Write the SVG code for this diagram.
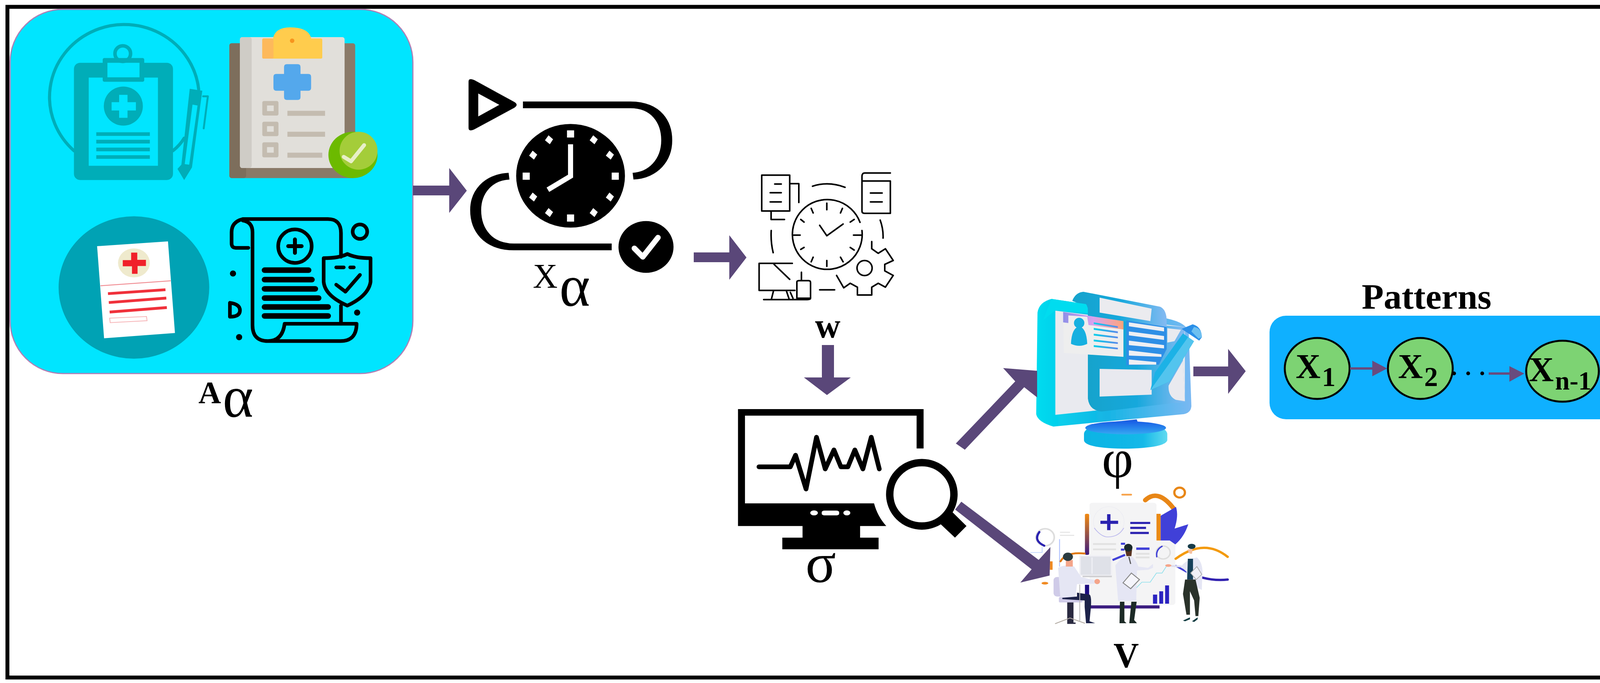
<svg xmlns="http://www.w3.org/2000/svg" width="4193" height="1748" viewBox="0 0 4193 1748">
<style>
text{font-family:"Liberation Serif","Times New Roman",serif;fill:#000}
.b{font-weight:bold}
.s{fill:none;stroke-linecap:round;stroke-linejoin:round;vector-effect:non-scaling-stroke}
.k{stroke:#000}
.arrow{fill:#5a4779}
.arrow2{fill:#694b7e}
.node{fill:#7dd373;stroke:#000;stroke-width:5}
.t{fill:#00adb8}
.c{fill:#00e5ff}
.bar{fill:#000}
.l{fill:none;stroke-linecap:round}
.skin{fill:#f4a58a}
.coat{fill:#e5e6f4}
</style>
<defs>
<linearGradient id="mon" x1="0" y1="0" x2="1" y2="0"><stop offset="0" stop-color="#00dcef"/><stop offset="0.45" stop-color="#14b5e5"/><stop offset="1" stop-color="#7ab8f2"/></linearGradient>
<linearGradient id="fold" x1="0" y1="0" x2="1" y2="0"><stop offset="0" stop-color="#12a3cc"/><stop offset="0.5" stop-color="#16a8dc"/><stop offset="1" stop-color="#84baf2"/></linearGradient>
<linearGradient id="band" x1="0" y1="0" x2="1" y2="0"><stop offset="0" stop-color="#8f8fe8"/><stop offset="0.5" stop-color="#d9a2ee"/><stop offset="1" stop-color="#ffa47a"/></linearGradient>
<linearGradient id="base" x1="0" y1="0" x2="1" y2="0"><stop offset="0" stop-color="#10b4e4"/><stop offset="0.7" stop-color="#12b8e8"/><stop offset="1" stop-color="#60daf0"/></linearGradient>
<linearGradient id="baseTop" x1="0" y1="0" x2="0" y2="1"><stop offset="0" stop-color="#1a5fe6"/><stop offset="1" stop-color="#35a8f2"/></linearGradient>
<linearGradient id="row" x1="0" y1="0" x2="1" y2="0"><stop offset="0" stop-color="#05d0ea"/><stop offset="1" stop-color="#5a88ea"/></linearGradient>
<linearGradient id="ob" x1="0" y1="0" x2="0" y2="1"><stop offset="0" stop-color="#f28a10"/><stop offset="1" stop-color="#3a1a80"/></linearGradient>
<filter id="soft" x="-5%" y="-5%" width="110%" height="110%"><feGaussianBlur stdDeviation="1.4"/></filter>
</defs>
<rect width="4193" height="1748" fill="#fff"/>
<rect x="19" y="17.5" width="4156" height="1716.5" fill="none" stroke="#000" stroke-width="10"/>

<g id="node-records">
<rect x="26" y="24" width="1031" height="932" rx="135" ry="135" fill="#00e5ff" stroke="#b07fb5" stroke-width="3"/>
<g transform="scale(.7143)">
<path class="s" d="M265 540A268 260 0 1 1 712 320" stroke="#00adb8" stroke-width="8"/>
<rect class="t" x="265" y="225" width="355" height="420" rx="22"/>
<rect class="c" x="318" y="278" width="248" height="316"/>
<rect class="t" x="368" y="208" width="149" height="85" rx="6"/>
<rect class="c" x="385" y="225" width="115" height="52"/>
<circle class="s" cx="440" cy="192" r="28" stroke="#00adb8" stroke-width="9"/>
<circle class="t" cx="442" cy="380" r="70"/>
<path class="c" d="M427 340h30v26h30v30h-30v26h-30v-26h-27v-30h27z"/>
<path class="t" d="M345 474h192v13H345zM345 501h192v13H345zM345 529h192v13H345zM345 556h192v13H345z"/>
<path class="s" d="M620 540Q645 520 660 495" stroke="#00adb8" stroke-width="8"/>
<path class="t" d="M680 318L725 325L688 600L660 645L636 605L650 590Z"/>
<path class="c" d="M690 375L708 378L678 590L662 588Z"/>
<path class="s" d="M728 345L745 345L730 460" stroke="#00adb8" stroke-width="5"/>
<rect x="822" y="155" width="451" height="483" rx="8" fill="#8a7a68"/>
<rect x="822" y="155" width="60" height="483" rx="8" fill="#7d6e5c"/>
<rect x="860" y="133" width="375" height="469" rx="8" fill="#e1dfda"/>
<rect x="860" y="133" width="42" height="469" rx="8" fill="#cfccc6"/>
<rect x="940" y="138" width="215" height="72" rx="5" fill="#ffcc4d"/>
<rect x="940" y="138" width="40" height="72" rx="5" fill="#fdb95b"/>
<path d="M978 140Q985 98 1040 98Q1108 98 1116 140Z" fill="#ffcc4d"/>
<circle cx="1047" cy="146" r="8" fill="#f7941d"/>
<path d="M1018 240q0-10 10-10h39q10 0 10 10v25h28q10 0 10 10v40q0 10-10 10h-28v23q0 10-10 10h-39q-10 0-10-10v-23h-28q-10 0-10-10v-40q0-10 10-10h28z" fill="#54a8ec"/>
<g fill="#c4bcb0">
<rect x="940" y="362" width="58" height="52" rx="6"/><rect x="940" y="436" width="58" height="52" rx="6"/><rect x="940" y="510" width="58" height="54" rx="6"/>
<rect x="1030" y="397" width="135" height="18"/><rect x="1030" y="472" width="135" height="18"/><rect x="1030" y="547" width="125" height="18"/>
</g>
<g fill="#e1dfda"><rect x="957" y="378" width="24" height="20"/><rect x="957" y="452" width="24" height="20"/><rect x="957" y="527" width="24" height="20"/></g>
<ellipse cx="1265" cy="555" rx="88" ry="83" fill="#6cba00"/>
<ellipse cx="1285" cy="540" rx="68" ry="68" fill="#a4cd39"/>
<path class="s" d="M1232 562L1258 578L1305 520" stroke="#e8efc8" stroke-width="10"/>
<ellipse cx="480" cy="1030" rx="270" ry="255" fill="#00a2b4"/>
<path d="M348 882L602 865L627 1193L373 1212Z" fill="#fff"/>
<ellipse cx="480" cy="942" rx="57" ry="52" fill="#efeacd"/>
<path d="M470 905h22v26h31v22h-30v28h-20v-27h-33v-22h30z" fill="#f0202a"/>
<path d="M360 1024L612 1006" stroke="#f08a90" stroke-width="3" fill="none"/>
<path d="M387 1052L593 1038M390 1084L596 1068M393 1118L598 1102" stroke="#f0303a" stroke-width="10" fill="none"/>
<path d="M393 1140L525 1134L527 1149L395 1156Z" fill="none" stroke="#f6b5b8" stroke-width="3"/>
<g class="s k" stroke-width="13">
<path d="M890 888H845Q830 888 830 872V832Q830 795 870 785H1175Q1222 785 1222 835V920"/>
<path d="M870 790Q905 795 905 832V1165Q905 1222 960 1222H1220Q1278 1222 1278 1160H1020Q1012 1222 960 1222"/>
<circle cx="1057" cy="882" r="60"/>
<path d="M1160 925Q1215 925 1245 910Q1275 925 1328 925V1010Q1320 1060 1245 1095Q1165 1060 1160 1010Z"/>
<path d="M1222 1095V1160"/>
<circle cx="1290" cy="830" r="26"/>
<path d="M824 1085Q860 1090 860 1112Q860 1135 824 1135Z"/>
<path d="M1205 1020L1238 1045L1290 985"/>
<path d="M1205 958H1232M1255 958H1268"/>
<path d="M1057 858V906M1033 882H1081" stroke-width="14"/>
</g>
<g class="bar">
<rect x="938" y="958" width="178" height="20" rx="10"/><rect x="938" y="992" width="190" height="20" rx="10"/><rect x="938" y="1025" width="202" height="20" rx="10"/><rect x="938" y="1058" width="214" height="20" rx="10"/><rect x="938" y="1090" width="248" height="20" rx="10"/><rect x="938" y="1122" width="248" height="20" rx="10"/>
<circle cx="835" cy="980" r="11"/><circle cx="857" cy="1208" r="11"/><circle cx="1280" cy="1120" r="11"/>
</g>
</g>
<text x="508" y="1032" class="b" font-size="80">A</text>
<text x="570" y="1067" font-size="150">α</text>
</g>

<g id="node-timer">
<g transform="translate(1100 150) scale(.829 .51)">
<path d="M120 115Q120 95 138 108L262 218Q275 232 262 246L138 355Q120 368 120 348ZM150 175V290L215 232Z" fill="#000" fill-rule="evenodd"/>
<g class="s k" stroke-width="34" style="stroke-linecap:butt">
<path d="M288 232H620C700 232 732 320 732 410C732 510 690 585 628 590"/>
<path d="M245 590C180 595 142 670 142 760C142 860 180 945 260 945H562"/>
</g>
<ellipse cx="435" cy="588" rx="168" ry="260" fill="#000"/>
<g fill="#fff">
<rect x="424" y="360" width="22" height="36"/><rect x="424" y="782" width="22" height="36"/><rect x="287" y="572" width="22" height="36"/><rect x="562" y="572" width="22" height="36"/>
<path d="M367 385l14 20-10 25-15-20zM505 385l14 20-10 25-15-20zM318 462l14 20-10 25-15-20zM555 462l14 20-10 25-15-20zM318 672l14 20-10 25-15-20zM555 672l14 20-10 25-15-20zM367 750l14 20-10 25-15-20zM505 750l14 20-10 25-15-20z"/>
</g>
<path class="s" d="M435 430V590L365 658" stroke="#fff" stroke-width="13" style="stroke-linecap:butt;stroke-linejoin:miter"/>
<ellipse cx="668" cy="945" rx="85" ry="130" fill="#000"/>
<path class="s" d="M632 952L658 995L705 898" stroke="#fff" stroke-width="14"/>
</g>
<text x="1364" y="736" font-size="88">X</text>
<text x="1432" y="783" font-size="150">α</text>
</g>

<g id="node-schedule">
<g transform="translate(1920 420) scale(.3333)">
<g class="s k" stroke-width="12">
<path d="M90 85H305V360H90ZM305 150H375V295M162 360V425H265"/>
<path d="M190 153H240M155 220H240M155 290H240"/>
<path d="M480 170Q600 130 730 178"/>
<path d="M1078 68H880Q860 68 860 95V360Q860 378 880 378H1078V130H860M925 222H1015M925 290H1015"/>
<path d="M163 510Q158 600 178 680M1000 430Q1025 500 1022 568"/>
<path d="M845 447A268 268 0 1 0 860 510"/>
<path d="M590 300V350M590 740V785M335 545H385M795 545H860M470 340L485 375M710 340L695 375M390 425L415 445M770 445L800 425M390 655L415 640M770 640L800 660M485 715L470 750M695 715L715 750"/>
<path d="M535 470L590 550L715 460"/>
<path d="M325 762H70V970H345M185 770L305 885M395 830V890"/>
<path d="M360 1030V905Q360 895 380 895H450Q465 895 465 910V1030Q465 1040 440 1040H105M360 1030H465"/>
<path d="M180 975L165 1035M280 975L300 1035M310 985L330 1030"/>
<path d="M535 965H650"/>
<path d="M665 855L720 950L770 915L825 945V1005H935V945L985 915L1040 945L1100 855L1035 820V770L1100 740L1040 650L985 685L935 650V595"/>
<circle cx="880" cy="798" r="58"/>
</g>
</g>
<text x="2119" y="864" class="b" font-size="90" text-anchor="middle">w</text>
</g>

<g id="node-monitor">
<g transform="translate(1800 900) scale(.893 .5408)">
<path d="M100 272H632V458H612V303H120V718H490Q500 780 525 825H450V880H503V935H227V880H285V825H100Z" fill="#000"/>
<g fill="#fff"><ellipse cx="318" cy="763" rx="11" ry="12"/><rect x="340" y="752" width="50" height="23" rx="8"/><ellipse cx="412" cy="763" rx="10" ry="12"/></g>
<path class="s k" stroke-width="12" d="M160 545H250L265 490L295 650L325 405L350 555L375 465L395 545H415L435 465L458 555L482 405L505 555"/>
<ellipse class="s k" cx="627" cy="675" rx="92" ry="150" stroke-width="19"/>
<path d="M680 815L715 760L755 825L722 880Z" fill="#000"/>
</g>
<text x="2101" y="1490" font-size="145" text-anchor="middle">σ</text>
</g>

<g id="node-form">
<g transform="translate(2620 720) scale(.3333)" filter="url(#soft)">
<path d="M215 135Q120 160 108 240L98 1020Q110 1080 230 1115L1230 1020Q1285 1010 1290 960L1270 400Q1265 320 1100 285L480 175Z" fill="url(#mon)"/>
<path d="M245 225L1240 350V920L245 1025Z" fill="#e9eaef"/>
<path d="M495 170L1100 340L1240 350L1225 610L1240 925L600 1000Q505 990 495 900Z" fill="url(#fold)"/>
<path d="M1225 610L1240 920L1170 910Q1110 880 1115 800Z" fill="#e9eaef"/>
<path d="M1105 360L1210 372L1160 460L1105 470Z" fill="#e9eaef"/>
<path d="M375 150Q400 85 460 80L1050 195Q1095 215 1100 290V350L495 270V200Z" fill="url(#fold)"/>
<path d="M585 125L985 210L975 305L585 240Z" fill="#ebebef"/>
<path d="M215 135L480 175Q495 190 495 245L245 222L150 300Z" fill="#00dcef"/>
<path d="M305 240L768 310V580L310 550Z" fill="#eeeeee"/>
<path d="M305 235L768 305V370L500 335L490 272L345 262V320L305 315Z" fill="url(#band)"/>
<circle cx="428" cy="320" r="40" fill="#18b0e0"/>
<path d="M365 480Q370 360 428 345Q485 360 490 480Q430 510 365 480Z" fill="#18b0e0"/>
<path d="M540 315L725 345V358L540 328ZM540 358L725 385V398L540 372ZM540 402L725 425V438L540 416ZM540 447L725 468V481L540 461ZM540 490L725 510V523L540 504Z" fill="url(#row)"/>
<path d="M790 300L1100 350V520L1040 640L790 645Z" fill="#2f8fe6"/>
<path d="M810 315L1080 355V385L810 345ZM810 385L1080 420V450L810 415ZM810 455L1080 490V515L810 490ZM810 530L1060 560V580L810 570ZM810 600L1020 620V640L810 640Z" fill="#eeeff3"/>
<path d="M585 672L985 680V870L585 885Z" fill="#e8e9ef"/>
<path d="M975 835L1010 700L1225 400L1310 460L1120 770Z" fill="#1eb2e6"/>
<path d="M975 835L1120 770L1310 460L1265 428Z" fill="#52c4ee"/>
<path d="M1215 365L1300 330Q1370 350 1370 430L1350 455Z" fill="#2a8fe8"/>
<path d="M1290 385L1310 350Q1370 360 1370 430L1345 440Z" fill="#6ec0f0"/>
<path d="M490 1100L870 1060L880 1085Z" fill="#1a5fe0"/>
<path d="M465 1170Q470 1100 760 1075Q1090 1090 1105 1170V1220Q1090 1280 770 1285Q470 1280 465 1220Z" fill="url(#base)"/>
<ellipse cx="785" cy="1125" rx="310" ry="50" fill="url(#baseTop)"/>
</g>
<text x="2861" y="1221" font-size="140" text-anchor="middle">φ</text>
</g>

<g id="node-team">
<g transform="translate(2600 1220) scale(.357 .3333)" filter="url(#soft)">
<path class="l" d="M765 138H828" stroke="#f7a34b" stroke-width="14"/>
<rect x="530" y="200" width="480" height="800" rx="20" fill="#f4f4f5"/>
<rect x="1000" y="490" width="145" height="495" rx="20" fill="#f4f4f5"/>
<path class="l" d="M930 180Q1020 90 1130 240" stroke="#e88614" stroke-width="34"/>
<circle class="l" cx="1176" cy="122" r="38" stroke="#e88614" stroke-width="16"/>
<rect x="497" y="285" width="30" height="315" rx="10" fill="url(#ob)"/>
<rect x="497" y="830" width="30" height="170" fill="#1f0f80"/>
<rect x="1010" y="285" width="30" height="205" fill="#ea8a14"/>
<path d="M1040 300L1150 232Q1170 300 1140 398L1238 365Q1210 460 1145 520L1105 490H1040Z" fill="#4040d8"/>
<ellipse class="l" cx="668" cy="345" rx="110" ry="115" stroke="#ececf2" stroke-width="4"/>
<path class="l" d="M565 395Q620 470 670 462Q740 460 775 395" stroke="#b9b6ee" stroke-width="5"/>
<path d="M608 350H735M668 288V410" stroke="#2c20b0" stroke-width="24" fill="none"/>
<path d="M822 355H965M822 393H935M822 432H955" stroke="#2c20b0" stroke-width="16" fill="none"/>
<path d="M555 517H720M555 558H720M862 592H960M862 620H960" stroke="#e2e2e2" stroke-width="14" fill="none"/>
<path d="M865 553H960" stroke="#3f3fd8" stroke-width="18" fill="none"/>
<path d="M755 515H785M755 560H780M695 640L785 600" stroke="#3f3fd8" stroke-width="16" fill="none"/>
<circle class="l" cx="1058" cy="582" r="50" stroke="#ddd" stroke-width="10"/>
<path class="l" d="M1050 535Q1005 560 1012 615" stroke="#3f3fd8" stroke-width="10"/>
<circle class="l" cx="212" cy="465" r="65" stroke="#ddd" stroke-width="12"/>
<path class="l" d="M170 425Q125 490 205 530" stroke="#2c20b0" stroke-width="16"/>
<path d="M318 427H390M318 450H420" stroke="#ddd" stroke-width="6" fill="none"/>
<path d="M315 480V690" stroke="#aabcff" stroke-width="6" fill="none"/>
<path d="M190 540V582H105" stroke="#b5d0ff" stroke-width="5" fill="none"/>
<path class="l" d="M322 650Q360 575 495 590" stroke="#e07810" stroke-width="14"/>
<rect x="527" y="988" width="505" height="24" fill="#3b1a80"/>
<rect x="245" y="650" width="20" height="65" fill="#f08a20"/>
<ellipse cx="210" cy="818" rx="24" ry="10" fill="#f08a20"/>
<path class="l" d="M1148 630Q1350 470 1520 615" stroke="#f39a10" stroke-width="18"/>
<path class="l" d="M1150 685L1225 730" stroke="#3f3fd8" stroke-width="14"/>
<path class="l" d="M1340 775Q1430 800 1520 790" stroke="#3020b0" stroke-width="18"/>
<path d="M985 905h30v70h-30zM1030 880h28v95h-28zM1072 835h28v140h-28z" fill="#2c20c0"/>
<path class="l" d="M860 860L905 810H965L1010 740H1050L1080 690" stroke="#8fe0ec" stroke-width="5"/>
<rect x="462" y="608" width="225" height="150" fill="#dfe1e8" stroke="#f0f0f5" stroke-width="10"/>
<rect x="480" y="760" width="210" height="12" fill="#cfcfd2"/>
<path d="M548 620V745" stroke="#f0f0f5" stroke-width="8"/>
<rect x="272" y="770" width="115" height="150" rx="25" fill="#cfcbe8"/>
<rect x="310" y="925" width="170" height="40" rx="8" fill="#cfcbe8"/>
<path d="M305 700Q350 670 420 690L470 770L590 800L600 820L440 825L430 925H320Z" class="coat"/>
<rect x="360" y="640" width="50" height="50" class="skin"/>
<ellipse cx="375" cy="615" rx="36" ry="32" fill="#2a3a40"/>
<circle cx="585" cy="805" r="20" class="skin"/>
<path d="M440 890L530 905Q545 915 540 1000L530 1110L570 1125H505L495 1000V950L335 940V930L440 920Z" fill="#1c2048"/>
<path d="M370 965H415V1120H430V1130H370Z" fill="#2a2a40"/>
<path class="l" d="M285 1128L390 1085L495 1125" stroke="#b0a8a0" stroke-width="6"/>
<path class="l" d="M460 830V1110" stroke="#bbb" stroke-width="6"/>
<path d="M715 680Q760 620 800 610L830 610Q860 630 880 690L950 700L985 670L985 700L950 715L870 720L865 955H735Z" class="coat"/>
<path d="M785 560H835L830 610H795Z" fill="#5a3520"/>
<circle cx="808" cy="545" r="30" fill="#1c2a2a"/>
<path d="M812 615L825 670" stroke="#555" stroke-width="8"/>
<path d="M770 815L830 740L888 790L825 860Z" fill="#f5f5fb" stroke="#888" stroke-width="7"/>
<path d="M748 960H780V1110L795 1125H745ZM830 960H868L850 1100L870 1125H815Z" fill="#1f2a25"/>
<path d="M1115 685L1190 690" stroke="#dde" stroke-width="14"/>
<ellipse cx="1095" cy="682" rx="22" ry="10" class="skin"/>
<path d="M1185 690Q1230 630 1300 620Q1335 650 1340 720L1335 870L1270 830L1230 790L1225 730Z" class="coat"/>
<path d="M1235 630H1272V790H1230Z" fill="#12405a"/>
<path d="M1232 560Q1245 600 1265 590L1270 550Z" fill="#f4c0a0"/>
<ellipse cx="1262" cy="535" rx="28" ry="20" fill="#123a48"/>
<path d="M1255 740L1300 690L1335 750L1295 790Z" fill="#f0f0f8" stroke="#aaa" stroke-width="5"/>
<path d="M1215 790H1290L1320 930L1310 1070H1290L1280 950L1250 880V1060H1225L1200 900Z" fill="#2a302c"/>
<path d="M1200 1105L1250 1080V1095L1215 1110ZM1265 1110L1305 1080V1095L1280 1115Z" fill="#0f3a40"/>
</g>
<text x="2883" y="1708" class="b" font-size="90" text-anchor="middle">V</text>
</g>

<g id="node-patterns">
<rect x="3250" y="808" width="915" height="265" rx="42" ry="42" fill="#0fb0ff"/>
<text x="3486" y="790" class="b" font-size="92">Patterns</text>
<g id="node-x1"><ellipse class="node" cx="3372" cy="943" rx="83" ry="78"/>
<text x="3317" y="967" class="b" font-size="88">X</text><text x="3384" y="988" class="b" font-size="70">1</text></g>
<g id="node-x2"><ellipse class="node" cx="3636" cy="943" rx="83" ry="78"/>
<text x="3579" y="967" class="b" font-size="88">X</text><text x="3646" y="988" class="b" font-size="70">2</text></g>
<text x="3715" y="960" class="b" font-size="60" letter-spacing="21">...</text>
<g id="node-xn"><ellipse class="node" cx="4000" cy="950" rx="93" ry="78"/>
<text x="3914" y="975" class="b" font-size="88">X</text><text x="3981" y="997" class="b" font-size="67">n-1</text></g>
</g>

<g id="connectors">
<path class="arrow" d="M1057 475H1150V430L1195 488L1150 545V500H1057Z"/>
<path class="arrow" d="M1776 646H1867V602L1911 659L1867 716V671H1776Z"/>
<path class="arrow" d="M2104 883H2135V966H2178L2117 1011L2058 966H2104Z"/>
<path class="arrow" d="M2447 1135L2599 976L2568 942L2655 949V1017L2622 991L2470 1151Z"/>
<path class="arrow" d="M2461 1284L2659 1433L2689 1400L2687 1473L2612 1491L2641 1457L2445 1304Z"/>
<path class="arrow" d="M3055 938H3144V893L3189 950L3144 1008V963H3055Z"/>
<path class="arrow2" d="M3456 940H3513V923L3551 943L3513 963V946H3456Z"/>
<path class="arrow2" d="M3811 953H3864V937L3902 956L3864 977V959H3811Z"/>
</g>
</svg>
